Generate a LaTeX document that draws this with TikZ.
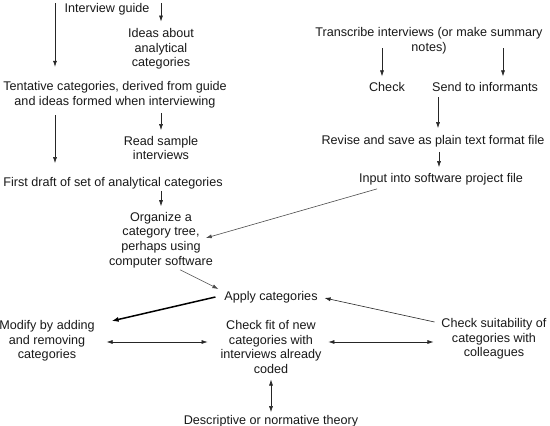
\documentclass[tikz,border=0pt]{standalone}
\usepackage{fontspec}
\setmainfont{Liberation Sans}
\usetikzlibrary{arrows.meta,calc}
\begin{document}
\begin{tikzpicture}[x=1pt,y=-1pt,
  lbl/.style={inner sep=0pt,outer sep=0pt,align=center,font=\fontsize{12.6}{14.6}\selectfont,text=black!90},
  arr/.style={draw=black!85,line width=0.6pt,-{Latex[length=6pt,width=4pt]}},
  darr/.style={draw=black!85,line width=0.6pt,{Latex[length=6pt,width=4pt]}-{Latex[length=6pt,width=4pt]}},
  thickarr/.style={draw=black,line width=1.5pt,-{Latex[length=7pt,width=5pt]}}]
\useasboundingbox (0,0) rectangle (550,426);
\fill[white] (0,0) rectangle (550,426);
% nodes
\node[lbl] (guide) at (107,9) {Interview guide};
\node[lbl] (ideas) at (161,49) {Ideas about\\analytical\\categories};
\node[lbl] (tent) at (115,95) {Tentative categories, derived from guide\\and ideas formed when interviewing};
\node[lbl] (read) at (161,148) {Read sample\\interviews};
\node[lbl] (first) at (113,183) {First draft of set of analytical categories};
\node[lbl] (org) at (161,240) {Organize a\\category tree,\\perhaps using\\computer software};
\node[lbl] (trans) at (429,41) {Transcribe interviews (or make summary\\notes)};
\node[lbl] (check) at (387,87) {Check};
\node[lbl] (send) at (485,87) {Send to informants};
\node[lbl] (revise) at (433,141) {Revise and save as plain text format file};
\node[lbl] (input) at (441,179) {Input into software project file};
\node[lbl] (apply) at (271,297) {Apply categories};
\node[lbl] (modify) at (47,341) {Modify by adding\\and removing\\categories};
\node[lbl] (fit) at (271,347) {Check fit of new\\categories with\\interviews already\\coded};
\node[lbl] (suit) at (494,339) {Check suitability of\\categories with\\colleagues};
\node[lbl] (theory) at (271,421) {Descriptive or normative theory};
% free ends
\coordinate (topL) at (55,3);
\coordinate (topM) at (161,3);
% connectors
\draw[arr] (topL) -- ($(tent.north)+(-60,-15)$);
\draw[arr] ($(tent.south)+(-60,7)$) -- ($(first.north)+(-58,-14)$);
\draw[arr] (topM) -- ($(ideas.north)+(0,-7)$);
\draw[arr] ($(tent.south)+(46,5)$) -- ($(read.north)+(0,-6)$);
\draw[arr] ($(first.south)+(48,2)$) -- ($(org.north)+(0,-6)$);
\draw[arr,draw=black!70] ($(input.south west)+(18,4)$) -- ($(org.east)+(-7,-2)$);
\draw[arr,draw=black!70] ($(org.south)+(19,2)$) -- ($(apply.west)+(-6,-8)$);
\draw[thickarr] ($(apply.west)+(-9,0)$) -- ($(modify.east)+(17,-20)$);
\draw[arr] ($(suit.west)+(-7,-17)$) -- ($(apply.east)+(7,1)$);
\draw[darr] ($(modify.east)+(12,1)$) -- ($(fit.west)+(-13,-5)$);
\draw[darr] ($(fit.east)+(7,-5)$) -- ($(suit.west)+(-8,3)$);
\draw[darr] ($(fit.south)+(0,6)$) -- ($(theory.north)+(0,-3)$);
\draw[arr] ($(trans.south)+(-47,-6)$) -- ($(check.north)+(-5,-6)$);
\draw[arr] ($(trans.south)+(74,-6)$) -- ($(send.north)+(18,-6)$);
\draw[arr] ($(send.south)+(-47,5.5)$) -- ($(revise.north)+(5,-7)$);
\draw[arr] ($(revise.south)+(6,5)$) -- ($(input.north)+(-2,-6)$);
\end{tikzpicture}
\end{document}
